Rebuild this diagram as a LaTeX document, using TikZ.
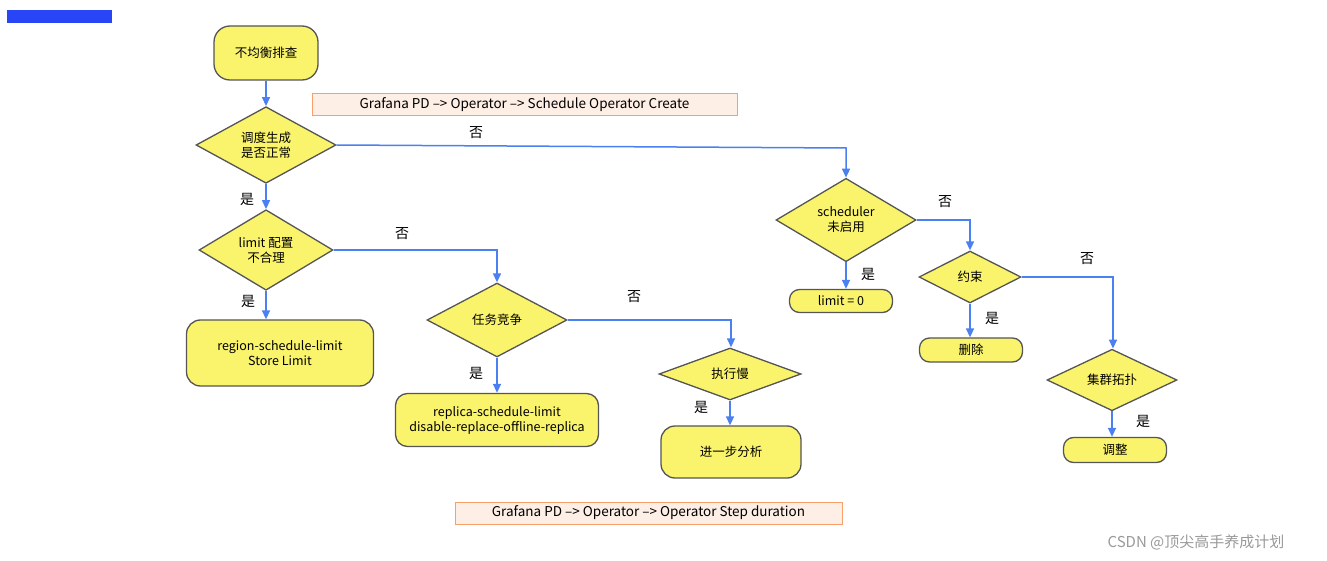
\documentclass[tikz,border=0pt]{standalone}
\usepackage{fontspec}
\setmainfont{Noto Sans CJK SC}
\usetikzlibrary{shapes.geometric,arrows.meta}
\definecolor{yel}{HTML}{FAF36C}
\definecolor{bord}{HTML}{555555}
\definecolor{arr}{HTML}{4A80F0}
\definecolor{ob}{HTML}{F7A06A}
\definecolor{of}{HTML}{FDEEE6}
\tikzset{
 box/.style={draw=bord,line width=1.3pt,fill=yel,rounded corners=12pt,inner sep=0pt,align=center,font=\fontsize{12.5}{15}\selectfont},
 dia/.style={diamond,draw=bord,line width=1.3pt,fill=yel,inner sep=0pt,align=center,font=\fontsize{12.5}{15}\selectfont},
 lab/.style={font=\fontsize{14}{16}\selectfont},
 note/.style={draw=ob,line width=1pt,fill=of,inner sep=0pt,font=\fontsize{13.5}{16}\selectfont},
 ar/.style={draw=arr,line width=1.5pt,-{Triangle[length=9pt,width=8pt]}}
}
\begin{document}
\begin{tikzpicture}[x=1pt,y=-1pt]
\useasboundingbox (0,0) rectangle (1327,561);
\fill[blue!80!cyan!70!blue, fill={rgb,255:red,40;green,70;blue,245}] (7,10) rectangle (112,23);
\node[box,minimum width=104,minimum height=54,rounded corners=16pt] (s) at (266,53) {不均衡排查};
\node[dia,minimum width=140,minimum height=76] (d1) at (266,145) {调度生成\\是否正常};
\node[dia,minimum width=134,minimum height=74] (d2) at (266,250) {limit 配置\\不合理};
\node[box,minimum width=187,minimum height=66,rounded corners=14pt] (r1) at (280,353) {region-schedule-limit\\Store Limit};
\node[dia,minimum width=140,minimum height=74] (d3) at (497,320) {任务竞争};
\node[box,minimum width=203,minimum height=53] (r2) at (497,420) {replica-schedule-limit\\disable-replace-offline-replica};
\node[dia,minimum width=142,minimum height=52] (d4) at (730,374) {执行慢};
\node[box,minimum width=140,minimum height=52,rounded corners=14pt] (r3) at (731,452) {进一步分析};
\node[dia,minimum width=140,minimum height=74] (d5) at (846,220) {scheduler\\未启用};
\node[box,minimum width=103,minimum height=23,rounded corners=10pt] (r4) at (841,301) {limit = 0};
\node[dia,minimum width=102,minimum height=52] (d6) at (970,277) {约束};
\node[box,minimum width=103,minimum height=24,rounded corners=10pt] (r5) at (971,350) {删除};
\node[dia,minimum width=130,minimum height=52] (d7) at (1112,380) {集群拓扑};
\node[box,minimum width=103,minimum height=25,rounded corners=10pt] (r6) at (1115,450) {调整};
\node[note,minimum width=425,minimum height=22] (n1) at (524.5,105) {Grafana PD --> Operator --> Schedule Operator Create};
\node[note,minimum width=387,minimum height=22] (n2) at (648.5,513) {Grafana PD --> Operator --> Operator Step duration};
\node[text=black!40,font=\fontsize{15}{17}\selectfont] (wm) at (1196,542) {CSDN @顶尖高手养成计划};
\coordinate (c1) at (846,148); \coordinate (c2) at (497,250); \coordinate (c3) at (731,320);
\coordinate (c4) at (970,220); \coordinate (c5) at (1113,277);
\draw[ar] (s) -- (d1);
\draw[ar] (d1.east) -- (c1) -- (d5.north);
\draw[ar] (d1) -- (d2);
\draw[ar] (d2.east) -- (c2) -- (d3.north);
\draw[ar] (d2.south) -- (d2.south |- r1.north);
\draw[ar] (d3.east) -- (c3) -- (c3 |- d4.north);
\draw[ar] (d3) -- (r2);
\draw[ar] (d4.south) -- (d4.south |- r3.north);
\draw[ar] (d5.east) -- (c4) -- (d6.north);
\draw[ar] (d5.south) -- (d5.south |- r4.north);
\draw[ar] (d6.east) -- (c5) -- (c5 |- d7.north);
\draw[ar] (d6.south) -- (d6.south |- r5.north);
\draw[ar] (d7.south) -- (d7.south |- r6.north);
\node[lab] (l1) at (476,133) {否};
\node[lab] (l2) at (247,199) {是};
\node[lab] (l3) at (402,234) {否};
\node[lab] (l4) at (248,301) {是};
\node[lab] (l5) at (634,297) {否};
\node[lab] (l6) at (476,373) {是};
\node[lab] (l7) at (701,407) {是};
\node[lab] (l8) at (945,202) {否};
\node[lab] (l9) at (868,274) {是};
\node[lab] (l10) at (1087,259) {否};
\node[lab] (l11) at (992,318) {是};
\node[lab] (l12) at (1143,421) {是};
\end{tikzpicture}
\end{document}
